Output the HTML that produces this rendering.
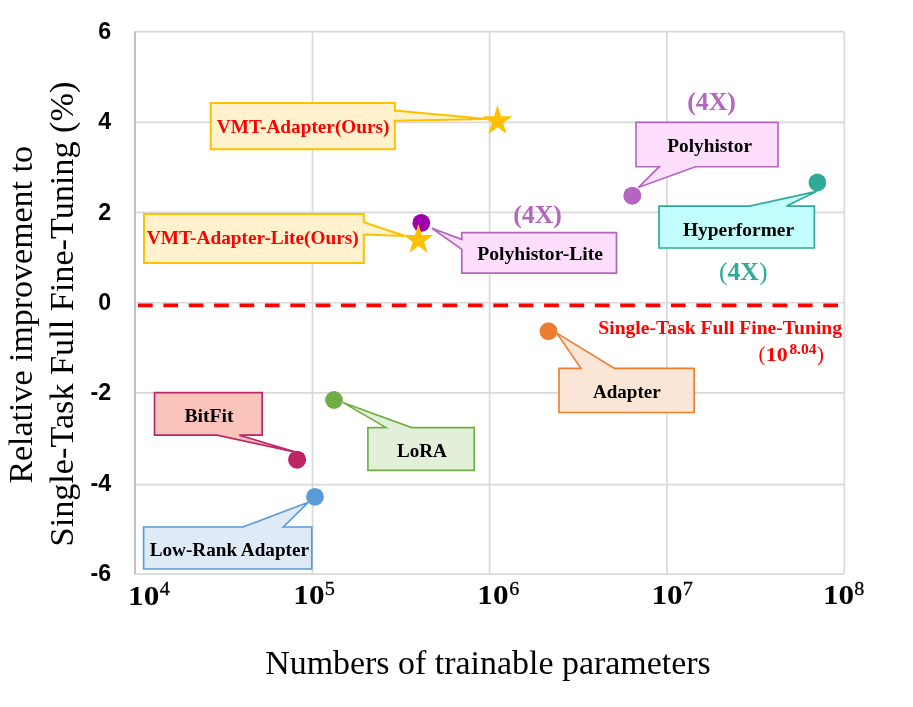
<!DOCTYPE html>
<html><head><meta charset="utf-8"><title>chart</title>
<style>html,body{margin:0;padding:0;background:#fff;}svg{display:block}.lb{font-family:"Liberation Serif",serif;font-weight:bold;font-size:19px}.yt{font-family:"Liberation Sans",sans-serif;font-weight:bold;font-size:23.2px;text-anchor:end;fill:#000}.xt{font-family:"Liberation Serif",serif;font-weight:bold;font-size:27.4px;fill:#000}.xs{font-family:"Liberation Serif",serif;font-weight:normal;font-size:17.9px;fill:#000;stroke:#000;stroke-width:0.3}.ax{font-family:"Liberation Serif",serif;font-size:33.7px;fill:#000}.fx{font-family:"Liberation Serif",serif;font-weight:bold;font-size:25.5px}</style></head><body>
<svg width="913" height="707" viewBox="0 0 913 707">
<rect width="913" height="707" fill="#fff"/>
<g stroke="#D9D9D9" stroke-width="1.7" fill="none"><line x1="135.00" y1="31.60" x2="135.00" y2="574.20"/><line x1="312.50" y1="31.60" x2="312.50" y2="574.20"/><line x1="489.60" y1="31.60" x2="489.60" y2="574.20"/><line x1="666.90" y1="31.60" x2="666.90" y2="574.20"/><line x1="844.30" y1="31.60" x2="844.30" y2="574.20"/><line x1="135.00" y1="31.60" x2="844.30" y2="31.60"/><line x1="135.00" y1="122.30" x2="844.30" y2="122.30"/><line x1="135.00" y1="212.45" x2="844.30" y2="212.45"/><line x1="135.00" y1="302.75" x2="844.30" y2="302.75"/><line x1="135.00" y1="392.90" x2="844.30" y2="392.90"/><line x1="135.00" y1="484.70" x2="844.30" y2="484.70"/><line x1="135.00" y1="574.20" x2="844.30" y2="574.20"/></g>
<g stroke="#BFBFBF" stroke-width="1.8" fill="none"><line x1="135.00" y1="31.60" x2="135.00" y2="574.20"/></g>
<text class="yt" x="111.2" y="38.60">6</text>
<text class="yt" x="111.2" y="129.07">4</text>
<text class="yt" x="111.2" y="219.54">2</text>
<text class="yt" x="111.2" y="310.01">0</text>
<text class="yt" x="111.2" y="400.48">-2</text>
<text class="yt" x="111.2" y="490.95">-4</text>
<text class="yt" x="111.2" y="581.42">-6</text>
<text class="xt" x="128.1" y="605.4" textLength="31.2" lengthAdjust="spacingAndGlyphs">10</text><text class="xs" x="159.8" y="594.8" textLength="10.1" lengthAdjust="spacingAndGlyphs">4</text>
<text class="xt" x="293.3" y="604.4" textLength="31.2" lengthAdjust="spacingAndGlyphs">10</text><text class="xs" x="324.8" y="594.8" textLength="10.1" lengthAdjust="spacingAndGlyphs">5</text>
<text class="xt" x="477.3" y="604.4" textLength="31.2" lengthAdjust="spacingAndGlyphs">10</text><text class="xs" x="509.3" y="594.8" textLength="10.1" lengthAdjust="spacingAndGlyphs">6</text>
<text class="xt" x="651.4" y="604.4" textLength="31.2" lengthAdjust="spacingAndGlyphs">10</text><text class="xs" x="682.8" y="594.8" textLength="10.1" lengthAdjust="spacingAndGlyphs">7</text>
<text class="xt" x="822.9" y="604.4" textLength="31.2" lengthAdjust="spacingAndGlyphs">10</text><text class="xs" x="854.3" y="594.8" textLength="10.1" lengthAdjust="spacingAndGlyphs">8</text>
<text class="ax" x="265.2" y="673.5" style="font-size:34.3px" textLength="445.6" lengthAdjust="spacingAndGlyphs">Numbers of trainable parameters</text>
<text class="ax" transform="translate(31.6,314.85) rotate(-90)" text-anchor="middle" textLength="337.5" lengthAdjust="spacingAndGlyphs">Relative improvement to</text>
<text class="ax" transform="translate(73,314.0) rotate(-90)" text-anchor="middle" textLength="464.8" lengthAdjust="spacingAndGlyphs">Single-Task Full Fine-Tuning (%)</text>
<line x1="138" y1="305.4" x2="838.2" y2="305.4" stroke="#FF0000" stroke-width="3.9" stroke-dasharray="14.7 10.68"/>
<path d="M210.7,102.9 L394.9,102.9 L394.9,110.5 L487.0,118.9 L394.9,120.8 L394.9,149.3 L210.7,149.3Z" fill="#FFF2CC" stroke="#FFC000" stroke-width="2.0" stroke-linejoin="miter"/>
<text class="lb" x="216.8" y="132.7" fill="#FF0000" textLength="172.7" lengthAdjust="spacingAndGlyphs">VMT-Adapter(Ours)</text>
<path d="M144.0,214.0 L363.8,214.0 L363.8,222.2 L405.0,236.0 L363.8,234.5 L363.8,263.0 L144.0,263.0Z" fill="#FFF2CC" stroke="#FFC000" stroke-width="2.0" stroke-linejoin="miter"/>
<text class="lb" x="146.8" y="244.0" fill="#FF0000" textLength="212.0" lengthAdjust="spacingAndGlyphs">VMT-Adapter-Lite(Ours)</text>
<path d="M461.8,232.6 L616.5,232.6 L616.5,273.2 L461.8,273.2 L461.8,249.4 L432.0,228.3 L461.8,239.4Z" fill="#FDDFFD" stroke="#B466BE" stroke-width="1.75" stroke-linejoin="miter"/>
<text class="lb" x="477.2" y="259.7" fill="#000" textLength="125.8" lengthAdjust="spacingAndGlyphs">Polyhistor-Lite</text>
<path d="M636.0,122.3 L778.0,122.3 L778.0,166.7 L695.4,166.7 L638.2,187.6 L659.3,166.7 L636.0,166.7Z" fill="#FDDFFD" stroke="#B466BE" stroke-width="1.65" stroke-linejoin="miter"/>
<text class="lb" x="667.3" y="152.0" fill="#000" textLength="84.7" lengthAdjust="spacingAndGlyphs">Polyhistor</text>
<path d="M659.0,206.1 L749.5,206.1 L816.8,191.3 L786.6,206.1 L814.4,206.1 L814.4,248.0 L659.0,248.0Z" fill="#C3FEFE" stroke="#2EAA96" stroke-width="1.7" stroke-linejoin="miter"/>
<text class="lb" x="682.9" y="235.7" fill="#000" textLength="111.2" lengthAdjust="spacingAndGlyphs">Hyperformer</text>
<path d="M559.0,368.4 L580.9,368.4 L556.8,333.1 L614.6,368.4 L694.2,368.4 L694.2,412.5 L559.0,412.5Z" fill="#FBE5D6" stroke="#ED7D31" stroke-width="1.65" stroke-linejoin="miter"/>
<text class="lb" x="592.9" y="397.6" fill="#000" textLength="67.8" lengthAdjust="spacingAndGlyphs">Adapter</text>
<path d="M154.5,392.7 L262.2,392.7 L262.2,435.2 L239.3,435.2 L296.6,452.4 L217.1,435.2 L154.5,435.2Z" fill="#FBC4BB" stroke="#BE2468" stroke-width="1.7" stroke-linejoin="miter"/>
<text class="lb" x="184.4" y="421.6" fill="#000" textLength="49.2" lengthAdjust="spacingAndGlyphs">BitFit</text>
<path d="M367.9,427.6 L386.1,427.6 L342.7,402.4 L411.7,427.6 L474.2,427.6 L474.2,470.3 L367.9,470.3Z" fill="#E2F0D9" stroke="#70AD47" stroke-width="1.65" stroke-linejoin="miter"/>
<text class="lb" x="397.0" y="457.0" fill="#000" textLength="49.8" lengthAdjust="spacingAndGlyphs">LoRA</text>
<path d="M143.6,527.0 L242.8,527.0 L308.5,502.2 L283.3,527.0 L311.8,527.0 L311.8,569.0 L143.6,569.0Z" fill="#DEEBF7" stroke="#5B9BD5" stroke-width="1.65" stroke-linejoin="miter"/>
<text class="lb" x="149.7" y="556.0" fill="#000" textLength="159.3" lengthAdjust="spacingAndGlyphs">Low-Rank Adapter</text>
<circle cx="421.3" cy="222.9" r="8.9" fill="#9E00AE"/>
<polygon points="497.50,105.10 501.00,116.16 512.34,116.16 503.17,122.99 506.67,134.04 497.50,127.21 488.33,134.04 491.83,122.99 482.66,116.16 494.00,116.16" fill="#FFC000"/>
<polygon points="418.40,224.00 421.90,235.06 433.24,235.06 424.07,241.89 427.57,252.94 418.40,246.11 409.23,252.94 412.73,241.89 403.56,235.06 414.90,235.06" fill="#FFC000"/>
<circle cx="632.3" cy="195.7" r="9.0" fill="#B466BE"/>
<circle cx="817.4" cy="182.5" r="8.9" fill="#2EAA96"/>
<circle cx="548.5" cy="331.2" r="8.9" fill="#ED7D31"/>
<circle cx="297.1" cy="459.7" r="9.0" fill="#BE2364"/>
<circle cx="334.0" cy="400.0" r="8.9" fill="#70AD47"/>
<circle cx="315.0" cy="496.8" r="8.9" fill="#5B9BD5"/>
<text class="fx" x="513.2" y="222.6" fill="#B466BE" textLength="48.7" lengthAdjust="spacingAndGlyphs">(4X)</text>
<text class="fx" x="687.2" y="110.4" fill="#B466BE" textLength="48.7" lengthAdjust="spacingAndGlyphs">(4X)</text>
<text class="fx" x="718.9" y="280.4" fill="#2EAA96" textLength="48.7" lengthAdjust="spacingAndGlyphs"><tspan font-weight="normal">(</tspan>4X<tspan font-weight="normal">)</tspan></text>
<text class="lb" x="598.3" y="333.6" fill="#FF0000" textLength="243.8" lengthAdjust="spacingAndGlyphs">Single-Task Full Fine-Tuning</text>
<g fill="#FF0000" font-family="'Liberation Serif',serif" font-weight="bold"><text x="758.4" y="361.2" font-size="21px" font-weight="normal">(</text><text x="765.8" y="361" font-size="19.5px" textLength="22" lengthAdjust="spacingAndGlyphs">10</text><text x="789.4" y="354.3" font-size="13.6px" textLength="27" lengthAdjust="spacingAndGlyphs">8.04</text><text x="817" y="361.2" font-size="21px" font-weight="normal">)</text></g>
</svg></body></html>
